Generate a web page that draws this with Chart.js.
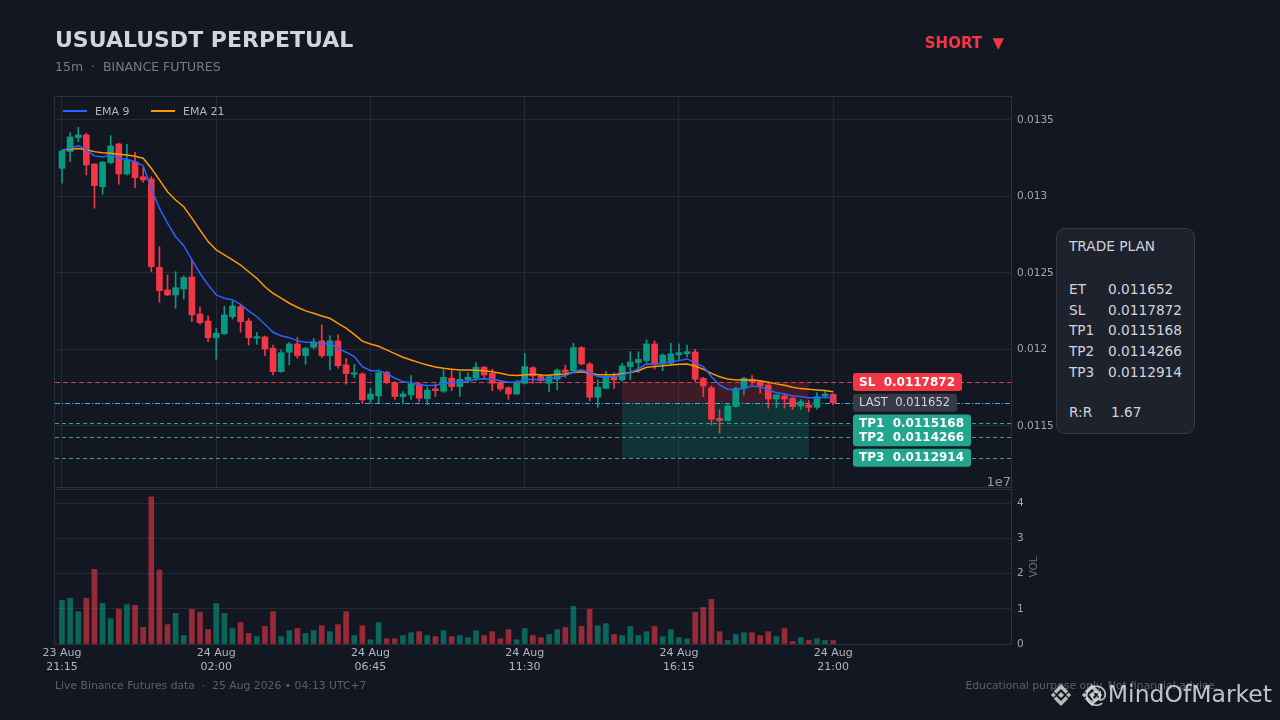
<!DOCTYPE html>
<html><head><meta charset="utf-8">
<title>USUALUSDT PERPETUAL</title>
<script src="https://cdn.jsdelivr.net/npm/chart.js@4.4.1/dist/chart.umd.min.js"></script>
<style>
html,body{margin:0;padding:0;background:#131722;}
body{width:1280px;height:720px;position:relative;overflow:hidden;font-family:"DejaVu Sans",sans-serif;}
canvas{position:absolute;left:0;top:0;}
.t{position:absolute;white-space:pre;line-height:1;}
</style></head><body>
<canvas id="priceChart" width="1280" height="720" style="width:1280px;height:720px"></canvas>
<canvas id="volChart" width="1280" height="720" style="width:1280px;height:720px"></canvas>

<div class="t" style="left:55px;top:28.8px;font-size:22px;font-weight:bold;color:#d1d4dc">USUALUSDT PERPETUAL</div>
<div class="t" style="left:55px;top:60.6px;font-size:12.5px;color:#787b86">15m  ·  BINANCE FUTURES</div>
<div class="t" style="right:276px;top:36.2px;font-size:15px;font-weight:bold;color:#f23645">SHORT  ▼</div>

<div style="position:absolute;left:63px;top:110px;width:24px;height:2px;background:#2962ff"></div>
<div class="t" style="left:95px;top:105.5px;font-size:11px;color:#b2b5be">EMA 9</div>
<div style="position:absolute;left:151px;top:110px;width:24px;height:2px;background:#ff9800"></div>
<div class="t" style="left:183px;top:105.5px;font-size:11px;color:#b2b5be">EMA 21</div>

<div class="t" style="right:269px;top:474.8px;font-size:13px;color:#9598a1">1e7</div>
<div class="t" style="left:1033px;top:567px;font-size:10.5px;color:#6a6d78;transform:translate(-50%,-50%) rotate(-90deg)">VOL</div>

<div style="position:absolute;left:1056px;top:228px;width:139px;height:206px;box-sizing:border-box;border:1px solid #363a45;border-radius:9px;background:#1e222d"></div>
<div class="t" style="left:1069px;top:240.4px;font-size:13.7px;color:#d1d4dc">TRADE PLAN</div>
<div class="t" style="left:1069px;top:283.1px;font-size:13.7px;color:#d1d4dc">ET</div>
<div class="t" style="left:1108px;top:283.1px;font-size:13.7px;color:#d1d4dc">0.011652</div>
<div class="t" style="left:1069px;top:303.7px;font-size:13.7px;color:#d1d4dc">SL</div>
<div class="t" style="left:1108px;top:303.7px;font-size:13.7px;color:#d1d4dc">0.0117872</div>
<div class="t" style="left:1069px;top:324.4px;font-size:13.7px;color:#d1d4dc">TP1</div>
<div class="t" style="left:1108px;top:324.4px;font-size:13.7px;color:#d1d4dc">0.0115168</div>
<div class="t" style="left:1069px;top:345.1px;font-size:13.7px;color:#d1d4dc">TP2</div>
<div class="t" style="left:1108px;top:345.1px;font-size:13.7px;color:#d1d4dc">0.0114266</div>
<div class="t" style="left:1069px;top:365.7px;font-size:13.7px;color:#d1d4dc">TP3</div>
<div class="t" style="left:1108px;top:365.7px;font-size:13.7px;color:#d1d4dc">0.0112914</div>
<div class="t" style="left:1069px;top:406.4px;font-size:13.7px;color:#d1d4dc">R:R</div>
<div class="t" style="left:1111px;top:406.4px;font-size:13.7px;color:#d1d4dc">1.67</div>

<div class="t" style="left:55px;top:680.8px;font-size:10.8px;color:#5d606b">Live Binance Futures data  ·  25 Aug 2026 • 04:13 UTC+7</div>
<div class="t" style="right:62px;top:680.8px;font-size:10.8px;color:#5d606b">Educational purpose only. Not financial advice.</div>

<svg style="position:absolute;left:1048px;top:681px;opacity:0.85" width="26" height="28" viewBox="0 0 126 126"><g fill="#d6d6d6">
<polygon points="63,48 78,63 63,78 48,63"/><polygon points="26,51 38,63 26,75 14,63"/><polygon points="100,51 112,63 100,75 88,63"/>
<polygon points="63,10 98,45 86,57 63,34 40,57 28,45"/><polygon points="63,116 98,81 86,69 63,92 40,69 28,81"/></g></svg>
<svg style="position:absolute;left:1079px;top:681px;opacity:0.85" width="26" height="28" viewBox="0 0 126 126"><g fill="#d6d6d6">
<polygon points="63,48 78,63 63,78 48,63"/><polygon points="26,51 38,63 26,75 14,63"/><polygon points="100,51 112,63 100,75 88,63"/>
<polygon points="63,10 98,45 86,57 63,34 40,57 28,45"/><polygon points="63,116 98,81 86,69 63,92 40,69 28,81"/></g></svg>
<div class="t" style="right:8px;top:682.7px;font-size:23.5px;color:rgba(220,220,220,0.88)">@MindOfMarket</div>

<script>
// ---------- data ----------
const xTickIndex = [0, 19, 38, 57, 76, 95];
const xTickLabels = [["23 Aug","21:15"],["24 Aug","02:00"],["24 Aug","06:45"],["24 Aug","11:30"],["24 Aug","16:15"],["24 Aug","21:00"]];
const priceTicks = [0.0115, 0.012, 0.0125, 0.013, 0.0135];
const priceTickLabels = ["0.0115","0.012","0.0125","0.013","0.0135"];
const volTicks = [0, 1e7, 2e7, 3e7, 4e7];
const volTickLabels = ["0","1","2","3","4"];

const opens = [0.013184,0.013293,0.013384,0.013402,0.013212,0.013064,0.013221,0.013343,0.013147,0.013226,
0.013129,0.013114,0.012537,0.012389,0.012356,0.012395,0.012474,0.012232,0.012186,0.012077,
0.012103,0.012214,0.012280,0.012186,0.012073,0.012082,0.012008,0.011855,0.011982,0.012036,
0.011960,0.012014,0.012056,0.011960,0.012056,0.011899,0.011838,0.011840,0.011674,0.011696,
0.011851,0.011783,0.011692,0.011703,0.011775,0.011678,0.011742,0.011727,0.011812,0.011757,
0.011801,0.011812,0.011884,0.011844,0.011786,0.011750,0.011709,0.011779,0.011881,0.011827,
0.011779,0.011805,0.011866,0.011860,0.012012,0.011905,0.011688,0.011746,0.011822,0.011801,
0.011888,0.011914,0.011927,0.012036,0.011905,0.011910,0.011964,0.011971,0.011984,0.011812,
0.011750,0.011550,0.011535,0.011627,0.011746,0.011805,0.011790,0.011768,0.011676,0.011696,
0.011681,0.011630,0.011637,0.011622,0.011696,0.011707];
const highs = [0.013300,0.013417,0.013452,0.013413,0.013215,0.013228,0.013397,0.013348,0.013341,0.013289,
0.013188,0.013129,0.012672,0.012487,0.012509,0.012482,0.012585,0.012276,0.012219,0.012139,
0.012282,0.012319,0.012295,0.012204,0.012112,0.012088,0.012029,0.011997,0.012047,0.012080,
0.012016,0.012073,0.012160,0.012090,0.012096,0.011942,0.011903,0.011848,0.011746,0.011866,
0.011859,0.011789,0.011724,0.011829,0.011781,0.011755,0.011775,0.011866,0.011866,0.011855,
0.011848,0.011914,0.011889,0.011871,0.011799,0.011755,0.011799,0.011975,0.011888,0.011838,
0.011833,0.011873,0.011899,0.012041,0.012018,0.011914,0.011801,0.011855,0.011848,0.011909,
0.011986,0.011986,0.012062,0.012056,0.011971,0.012041,0.012036,0.012029,0.012001,0.011818,
0.011761,0.011605,0.011644,0.011753,0.011818,0.011829,0.011799,0.011779,0.011705,0.011710,
0.011686,0.011672,0.011666,0.011718,0.011729,0.011712];
const lows = [0.013086,0.013227,0.013358,0.013141,0.012923,0.013014,0.013215,0.013080,0.013141,0.013058,
0.013093,0.012509,0.012308,0.012352,0.012269,0.012330,0.012182,0.012165,0.012051,0.011936,
0.012098,0.012199,0.012112,0.012029,0.012034,0.011960,0.011833,0.011851,0.011899,0.011942,
0.011903,0.012003,0.011946,0.011866,0.011877,0.011773,0.011816,0.011648,0.011648,0.011652,
0.011774,0.011674,0.011644,0.011674,0.011659,0.011637,0.011692,0.011718,0.011731,0.011692,
0.011779,0.011796,0.011818,0.011731,0.011729,0.011674,0.011705,0.011773,0.011779,0.011779,
0.011724,0.011735,0.011818,0.011855,0.011899,0.011665,0.011622,0.011742,0.011746,0.011792,
0.011801,0.011849,0.011910,0.011871,0.011861,0.011897,0.011932,0.011951,0.011790,0.011692,
0.011507,0.011452,0.011531,0.011622,0.011703,0.011768,0.011714,0.011616,0.011618,0.011616,
0.011609,0.011609,0.011593,0.011609,0.011692,0.011637];
const closes = [0.013297,0.013389,0.013402,0.013206,0.013071,0.013224,0.013330,0.013147,0.013237,0.013123,
0.013108,0.012541,0.012384,0.012356,0.012404,0.012469,0.012226,0.012175,0.012077,0.012106,
0.012226,0.012284,0.012182,0.012077,0.012084,0.012003,0.011855,0.011979,0.012036,0.011960,
0.012008,0.012051,0.011960,0.012056,0.011894,0.011842,0.011848,0.011670,0.011709,0.011848,
0.011783,0.011692,0.011709,0.011775,0.011681,0.011735,0.011731,0.011818,0.011757,0.011805,
0.011818,0.011884,0.011833,0.011779,0.011742,0.011709,0.011783,0.011888,0.011827,0.011796,
0.011823,0.011866,0.011851,0.012012,0.011905,0.011688,0.011753,0.011822,0.011801,0.011892,
0.011918,0.011936,0.012036,0.011905,0.011964,0.011971,0.011979,0.011986,0.011805,0.011761,
0.011544,0.011535,0.011631,0.011746,0.011812,0.011790,0.011761,0.011676,0.011703,0.011676,
0.011626,0.011659,0.011622,0.011692,0.011709,0.011652];
const volumes = [12400000,13000000,9200000,13000000,21200000,11500000,7200000,9900000,11200000,11000000,
4700000,41800000,21000000,5500000,8700000,2400000,9900000,9000000,4100000,11500000,
8700000,4400000,6100000,3000000,2100000,5000000,9200000,2100000,3800000,4400000,
3000000,3800000,5200000,3500000,5500000,9200000,2400000,5200000,1200000,6100000,
1500000,1500000,2400000,3200000,3500000,2400000,2100000,3800000,2100000,2400000,
1800000,3800000,2400000,3500000,1500000,4100000,1200000,4400000,2400000,1800000,
2700000,4100000,4700000,10700000,5000000,9900000,5200000,5800000,2700000,2400000,
5000000,2400000,3500000,5000000,2100000,4100000,1800000,1500000,9000000,10400000,
12700000,3500000,1000000,2700000,3200000,3200000,2400000,3500000,2100000,4400000,
700000,1800000,1000000,1500000,1000000,1000000];
const ema9 = [0.013304,0.013315,0.013332,0.013304,0.013265,0.013258,0.013271,0.013250,0.013243,0.013227,
0.013201,0.013054,0.012923,0.012825,0.012737,0.012678,0.012585,0.012498,0.012422,0.012356,
0.012335,0.012324,0.012295,0.012252,0.012214,0.012165,0.012112,0.012090,0.012077,0.012056,
0.012047,0.012047,0.012034,0.012040,0.012008,0.011982,0.011953,0.011888,0.011861,0.011861,
0.011844,0.011812,0.011790,0.011781,0.011770,0.011765,0.011766,0.011779,0.011783,0.011788,
0.011792,0.011805,0.011809,0.011807,0.011796,0.011786,0.011788,0.011801,0.011805,0.011801,
0.011805,0.011818,0.011830,0.011850,0.011868,0.011848,0.011822,0.011822,0.011822,0.011833,
0.011850,0.011874,0.011905,0.011903,0.011910,0.011920,0.011927,0.011938,0.011914,0.011888,
0.011822,0.011768,0.011740,0.011735,0.011746,0.011761,0.011757,0.011735,0.011718,0.011709,
0.011696,0.011692,0.011685,0.011685,0.011688,0.011685];
const ema21 = [0.013304,0.013308,0.013314,0.013305,0.013293,0.013286,0.013282,0.013276,0.013271,0.013263,
0.013250,0.013184,0.013108,0.013031,0.012977,0.012933,0.012858,0.012781,0.012705,0.012650,
0.012618,0.012585,0.012552,0.012508,0.012465,0.012410,0.012367,0.012335,0.012302,0.012276,
0.012252,0.012237,0.012219,0.012204,0.012171,0.012139,0.012099,0.012054,0.012036,0.012021,
0.011997,0.011973,0.011949,0.011931,0.011914,0.011899,0.011886,0.011877,0.011871,0.011866,
0.011866,0.011864,0.011861,0.011855,0.011844,0.011833,0.011829,0.011833,0.011838,0.011833,
0.011831,0.011838,0.011840,0.011850,0.011855,0.011846,0.011835,0.011835,0.011835,0.011842,
0.011850,0.011861,0.011884,0.011888,0.011894,0.011899,0.011903,0.011905,0.011892,0.011871,
0.011844,0.011822,0.011807,0.011801,0.011801,0.011801,0.011796,0.011786,0.011775,0.011766,
0.011753,0.011744,0.011740,0.011735,0.011731,0.011724];

const levelNames = ["SL", "LAST", "TP1", "TP2", "TP3"];
const levelValues = [0.0117872, 0.011652, 0.0115168, 0.0114266, 0.0112914];
const zoneStartIndex = 69;
const zoneEndIndex = 92;

// ---------- styling ----------
Chart.defaults.font.family = '"DejaVu Sans", sans-serif';
const GREEN = '#089981', RED = '#f23645';
const GRID = '#252934', BORDER = '#2d313c';
const X_MIN = -0.86, X_MAX = 116.9;
const up = closes.map((c, i) => c >= opens[i]);
const candleColors = up.map(u => u ? GREEN : RED);
const volColors = up.map(u => u ? 'rgba(8,153,129,0.6)' : 'rgba(242,54,69,0.6)');
const levelStyles = {
  SL:   {line: '#f23645', dash: [5, 3], box: '#f23645', text: '#ffffff', bold: true},
  LAST: {line: '#29b6f6', dash: [5, 2, 1, 2], box: '#363a45', text: '#d1d4dc', bold: false},
  TP1:  {line: '#26a69a', dash: [4, 3], box: '#22a68f', text: '#ffffff', bold: true},
  TP2:  {line: '#26a69a', dash: [4, 3], box: '#22a68f', text: '#ffffff', bold: true},
  TP3:  {line: '#26a69a', dash: [4, 3], box: '#22a68f', text: '#ffffff', bold: true}
};
const valueOf = name => levelValues[levelNames.indexOf(name)];

const borderPlugin = {
  id: 'panelBorder',
  afterDraw(chart) {
    const a = chart.chartArea, ctx = chart.ctx;
    ctx.save();
    ctx.strokeStyle = BORDER; ctx.lineWidth = 1;
    ctx.strokeRect(Math.round(a.left) - 0.5, Math.round(a.top) - 0.5, Math.round(a.right - a.left) + 1, Math.round(a.bottom - a.top) + 1);
    ctx.restore();
  }
};

const levelsPlugin = {
  id: 'levels',
  beforeDatasetsDraw(chart) {
    const {ctx, chartArea: a, scales: {x, y}} = chart;
    ctx.save();
    ctx.beginPath(); ctx.rect(a.left, a.top, a.right - a.left, a.bottom - a.top); ctx.clip();
    const x0 = x.getPixelForValue(zoneStartIndex), x1 = x.getPixelForValue(zoneEndIndex);
    const ySL = y.getPixelForValue(valueOf('SL')), yE = y.getPixelForValue(valueOf('LAST')), yT = y.getPixelForValue(valueOf('TP3'));
    ctx.fillStyle = 'rgba(242,54,69,0.19)'; ctx.fillRect(x0, ySL, x1 - x0, yE - ySL);
    ctx.fillStyle = 'rgba(8,153,129,0.22)'; ctx.fillRect(x0, yE, x1 - x0, yT - yE);
    levelNames.forEach((n, i) => {
      const st = levelStyles[n];
      const yy = Math.round(y.getPixelForValue(levelValues[i])) + 0.5;
      ctx.strokeStyle = st.line; ctx.lineWidth = 1.2; ctx.setLineDash(st.dash);
      ctx.beginPath(); ctx.moveTo(a.left, yy); ctx.lineTo(a.right, yy); ctx.stroke();
    });
    ctx.restore();
  },
  afterDatasetsDraw(chart) {
    const {ctx, chartArea: a, scales: {y}} = chart;
    const bx = a.right - 158, h = 18;
    const items = levelNames.map((n, i) => {
      const st = levelStyles[n];
      const font = (st.bold ? 'bold 12px ' : '11.5px ') + '"DejaVu Sans", sans-serif';
      ctx.font = font;
      const text = n + '  ' + String(levelValues[i]);
      return {st, font, text, w: ctx.measureText(text).width + 13, yc: y.getPixelForValue(levelValues[i])};
    });
    ctx.save();
    items.forEach(it => {
      ctx.fillStyle = it.st.box;
      ctx.beginPath(); ctx.roundRect(bx, it.yc - h / 2, it.w, h, 3); ctx.fill();
    });
    items.forEach(it => {
      ctx.font = it.font; ctx.fillStyle = it.st.text; ctx.textBaseline = 'middle'; ctx.textAlign = 'left';
      ctx.fillText(it.text, bx + 6, it.yc + 0.5);
    });
    ctx.restore();
  }
};

const fixW = s => { s.width = 60; };

new Chart(document.getElementById('priceChart'), {
  type: 'bar',
  data: {
    datasets: [
      {type: 'line', label: 'EMA 9', data: ema9.map((v, i) => ({x: i, y: v})), borderColor: '#2962ff', borderWidth: 1.5, pointRadius: 0, tension: 0, order: 0},
      {type: 'line', label: 'EMA 21', data: ema21.map((v, i) => ({x: i, y: v})), borderColor: '#ff9800', borderWidth: 1.5, pointRadius: 0, tension: 0, order: 0},
      {label: 'body', data: opens.map((o, i) => ({x: i, y: [o, closes[i]]})), backgroundColor: candleColors, barThickness: 6, grouped: false, minBarLength: 1, order: 1},
      {label: 'wick', data: lows.map((l, i) => ({x: i, y: [l, highs[i]]})), backgroundColor: candleColors, barThickness: 1, grouped: false, order: 2}
    ]
  },
  options: {
    responsive: false, animation: false, events: [],
    layout: {padding: {left: 55, right: 209, top: 97, bottom: 233}},
    plugins: {legend: {display: false}, tooltip: {enabled: false}},
    scales: {
      x: {type: 'linear', min: X_MIN, max: X_MAX, offset: false,
          grid: {color: GRID, drawTicks: false, offset: false}, border: {display: false},
          ticks: {display: false, autoSkip: false},
          afterBuildTicks: s => { s.ticks = xTickIndex.map(v => ({value: v})); },
          afterFit: s => { s.height = 0; }},
      y: {position: 'right', min: 0.011101, max: 0.01365,
          grid: {color: GRID, drawTicks: false}, border: {display: false},
          ticks: {color: '#a3a6af', font: {size: 10.5}, padding: 6, callback: (v, i) => priceTickLabels[i]},
          afterBuildTicks: s => { s.ticks = priceTicks.map(v => ({value: v})); },
          afterFit: fixW}
    }
  },
  plugins: [levelsPlugin, borderPlugin]
});

new Chart(document.getElementById('volChart'), {
  type: 'bar',
  data: {
    datasets: [
      {label: 'VOL', data: volumes.map((v, i) => ({x: i, y: v})), backgroundColor: volColors, barThickness: 5, grouped: false}
    ]
  },
  options: {
    responsive: false, animation: false, events: [],
    layout: {padding: {left: 55, right: 209, top: 490, bottom: 46}},
    plugins: {legend: {display: false}, tooltip: {enabled: false}},
    scales: {
      x: {type: 'linear', min: X_MIN, max: X_MAX, offset: false,
          grid: {display: false, drawTicks: false, offset: false}, border: {display: false},
          ticks: {color: '#b2b5be', font: {size: 11}, padding: 3, maxRotation: 0, autoSkip: false, callback: (v, i) => xTickLabels[i]},
          afterBuildTicks: s => { s.ticks = xTickIndex.map(v => ({value: v})); },
          afterFit: s => { s.height = 30; }},
      y: {position: 'right', min: 0, max: 43750000,
          grid: {color: GRID, drawTicks: false}, border: {display: false},
          ticks: {color: '#a3a6af', font: {size: 10.5}, padding: 6, callback: (v, i) => volTickLabels[i]},
          afterBuildTicks: s => { s.ticks = volTicks.map(v => ({value: v})); },
          afterFit: fixW}
    }
  },
  plugins: [borderPlugin]
});
</script>
</body></html>
